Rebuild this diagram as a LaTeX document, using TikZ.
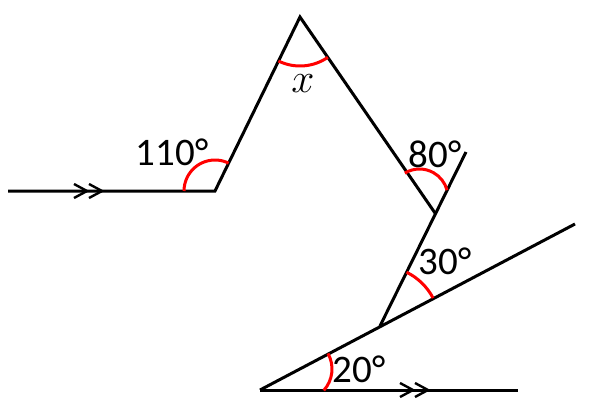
\documentclass[tikz,border=0pt]{standalone}
\usepackage{fontspec}
\setmainfont{Carlito}
\usetikzlibrary{calc}
\definecolor[named]{AngleRed}{rgb}{1,0,0}
\newcommand{\anglefont}{\fontsize{19.5}{23}\selectfont}
\tikzset{twoarrows/.pic={ %{{{
  \begin{scope}[line width=1.2pt]
    \draw (-13,7) -- (0,0) -- (-13,-7);
    \draw (2,7) -- (15,0) -- (2,-7);
  \end{scope}
}}
%}}}
\tikzset{anglearc/.style={AngleRed,line width=1.5pt}}

\begin{document}
\begin{tikzpicture}[x=0.5pt,y=0.5pt,line width=1.5pt]
      \path[use as bounding box] (0,0) rectangle (594,-407);
      \anglefont

      \coordinate (L) at (8,-191);
      \coordinate (A) at (215,-191);
      \coordinate (P) at (300,-17);
      \coordinate (B) at (435,-213);
      \coordinate (T) at (466,-152);
      \coordinate (C) at (380,-326);
      \coordinate (S) at (575,-224);
      \coordinate (D) at (260,-390);
      \coordinate (E) at (518,-390);

      \draw (L) -- (A) -- (P) -- (B);
      \draw (T) -- (C);
      \draw (D) -- (S);
      \draw (D) -- (E);

      % parallel marks
      \path (87,-191) pic {twoarrows};
      \path (413,-390) pic {twoarrows};

      % angle marks
      \draw[anglearc] ($(A)+(63.9:31)$) arc[start angle=63.9,end angle=180,radius=31];
      \draw[anglearc] ($(P)+(-116.1:49)$) arc[start angle=-116.1,end angle=-55.4,radius=49];
      \draw[anglearc] ($(419.5,-197.5)+(121:28.5)$) arc[start angle=121,end angle=15,radius=28.5];
      \draw[anglearc] ($(C)+(27.8:60)$) arc[start angle=27.8,end angle=63.7,radius=60];
      \draw[anglearc] ($(300,-369)+(-42:32)$) arc[start angle=-42,end angle=29,radius=32];

      \node (a110) at (172,-152) {110°};
      \node (ax) at (303,-84) {\fontsize{22}{26}\selectfont $x$};
      \node (a80) at (435,-154) {80°};
      \node (a30) at (445,-261) {30°};
      \node (a20) at (359,-369) {20°};
    \end{tikzpicture}
\end{document}
